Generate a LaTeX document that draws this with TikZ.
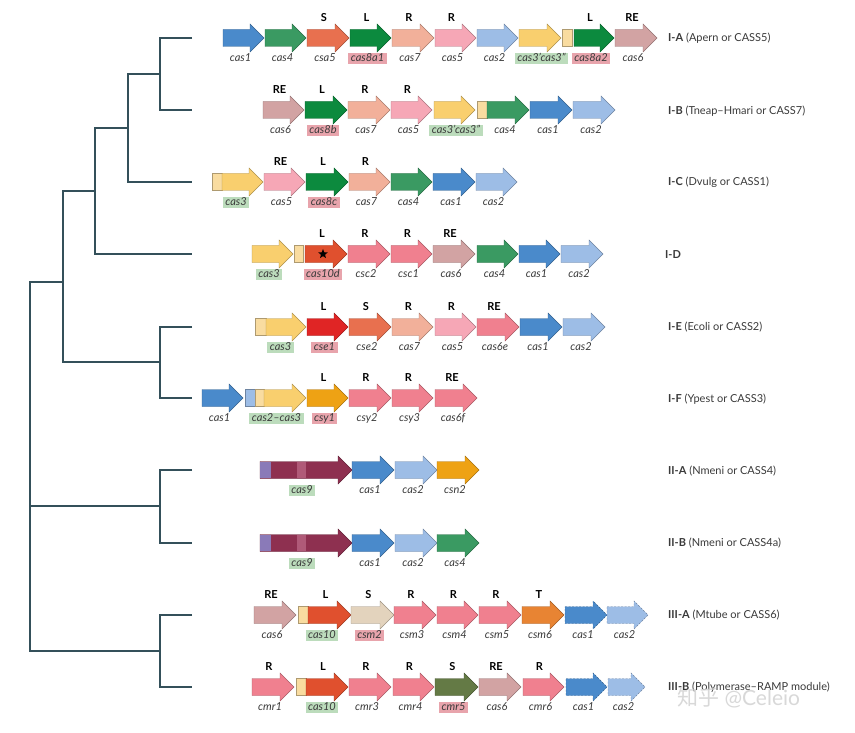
\documentclass[tikz,border=0pt]{standalone}
\usepackage{fontspec}
\setmainfont{Lato}
\newfontfamily\cjk{Noto Sans CJK SC}
\usetikzlibrary{shapes.geometric}
\definecolor{cblue}{HTML}{4A8ACB}
\definecolor{clblue}{HTML}{9DBDE6}
\definecolor{cgreen}{HTML}{3A9A62}
\definecolor{cdgreen}{HTML}{0C8A3E}
\definecolor{csalmon}{HTML}{E8704F}
\definecolor{cpeach}{HTML}{F2B09A}
\definecolor{cpink}{HTML}{F6A7B6}
\definecolor{cpinkb}{HTML}{F0808F}
\definecolor{cmauve}{HTML}{D2A3A3}
\definecolor{cyellow}{HTML}{F9CF6E}
\definecolor{ccream}{HTML}{F9DCA0}
\definecolor{cred}{HTML}{E02525}
\definecolor{credo}{HTML}{E0502E}
\definecolor{camber}{HTML}{EEA214}
\definecolor{corange}{HTML}{E88433}
\definecolor{cbeige}{HTML}{E3D3BD}
\definecolor{colive}{HTML}{647A45}
\definecolor{cmaroon}{HTML}{8E3050}
\definecolor{cstripe}{HTML}{B05A78}
\definecolor{cpurple}{HTML}{8A7AB8}
\definecolor{hlpink}{HTML}{E8A4AC}
\definecolor{hlgreen}{HTML}{BCDCBC}
\definecolor{treecol}{HTML}{34505A}
\definecolor{txtgray}{HTML}{3A3A3A}
\tikzset{
  genebody/.style={line width=0.4pt},
  tlab/.style={font=\fontsize{11}{13}\selectfont\bfseries, text=black, inner sep=0pt},
  gname/.style={font=\fontsize{11}{13}\selectfont\itshape, text=txtgray, inner xsep=2.5pt, inner ysep=0pt, text height=8.2pt, text depth=2.6pt},
  hlp/.style={fill=hlpink},
  hlg/.style={fill=hlgreen},
  nohl/.style={},
  tree/.style={line width=1.3pt, draw=treecol},
  rlab/.style={anchor=west, font=\fontsize{11}{13}\selectfont, text=txtgray, inner sep=0pt},
  dsh/.style={dash pattern=on 2pt off 1.5pt}
}
% #1 opts, #2 id, #3 x1, #4 x2, #5 y, #6 colour, #7 type, #8 name, #9 highlight
\newcommand\gene[9][]{%
  \path[genebody,fill=#6,draw=#6!70!black,#1] ({#3},{#5-8.5}) -- ({#4-14},{#5-8.5}) -- ({#4-14},{#5-14}) -- ({#4},{#5}) -- ({#4-14},{#5+14}) -- ({#4-14},{#5+8.5}) -- ({#3},{#5+8.5}) -- cycle;
  \node[tlab] (#2t) at ({(#3+#4)/2-4},{#5-20}) {#7};
  \node[gname,#9] (#2n) at ({(#3+#4)/2-3},{#5+20.5}) {#8};
}
\newcommand\gbox[4]{%
  \path[genebody,fill=#4,draw=#4!70!black] ({#1},{#3-8.5}) rectangle ({#2},{#3+8.5});
}
\begin{document}
\begin{tikzpicture}[x=1pt,y=-1pt]
\useasboundingbox[fill=white] (0,0) rectangle (855,733);
% ---------- tree ----------
\coordinate (lA) at (192,38);
\coordinate (lB) at (192,110);
\coordinate (lC) at (192,182);
\coordinate (lD) at (192,254);
\coordinate (lE) at (192,327);
\coordinate (lF) at (192,398);
\coordinate (lG) at (192,470);
\coordinate (lH) at (192,543);
\coordinate (lI) at (192,615);
\coordinate (lJ) at (192,687);
\coordinate (jAB) at (160,74);
\coordinate (jABC) at (128,128);
\coordinate (jABCD) at (95,191);
\coordinate (jEF) at (160,362);
\coordinate (jI) at (63,282);
\coordinate (jII) at (160,506);
\coordinate (jIII) at (160,651);
\coordinate (rTop) at (30,282);
\coordinate (rBot) at (30,651);
\draw[tree] (lA) -| (jAB) |- (lB);
\draw[tree] (jAB) -| (jABC) |- (lC);
\draw[tree] (jABC) -| (jABCD) |- (lD);
\draw[tree] (lE) -| (jEF) |- (lF);
\draw[tree] (jABCD) -| (jI) |- (jEF);
\draw[tree] (lG) -| (jII) |- (lH);
\draw[tree] (lI) -| (jIII) |- (lJ);
\draw[tree] (jI) -- (rTop) -- (rBot) -- (jIII);
\draw[tree] (jII) -- (jII -| rTop);
% ---------- I-A ----------
\gene{a1}{223}{264}{38}{cblue}{}{cas1}{nohl}
\gene{a2}{265}{306}{38}{cgreen}{}{cas4}{nohl}
\gene{a3}{307}{349}{38}{csalmon}{S}{csa5}{nohl}
\gene{a4}{350}{391}{38}{cdgreen}{L}{cas8a1}{hlp}
\gene{a5}{392}{434}{38}{cpeach}{R}{cas7}{nohl}
\gene{a6}{435}{476}{38}{cpink}{R}{cas5}{nohl}
\gene{a7}{477}{518}{38}{clblue}{}{cas2}{nohl}
\gene{a8}{519}{561}{38}{cyellow}{}{}{nohl}
\gbox{562}{572}{38}{ccream}
\node[gname,hlg] (a8x) at (541.5,58.5) {cas3'cas3''};
\gene{a9}{574}{614}{38}{cdgreen}{L}{cas8a2}{hlp}
\gene{a10}{615}{657}{38}{cmauve}{RE}{cas6}{nohl}
% ---------- I-B ----------
\gene{b1}{263}{304}{110}{cmauve}{RE}{cas6}{nohl}
\gene{b2}{305}{347}{110}{cdgreen}{L}{cas8b}{hlp}
\gene{b3}{348}{390}{110}{cpeach}{R}{cas7}{nohl}
\gene{b4}{391}{432}{110}{cpink}{R}{cas5}{nohl}
\gene{b5}{434}{475}{110}{cyellow}{}{}{nohl}
\gbox{477}{487}{110}{ccream}
\node[gname,hlg] (b5x) at (456,130.5) {cas3'cas3''};
\gene{b6}{487}{529}{110}{cgreen}{}{cas4}{nohl}
\gene{b7}{530}{572}{110}{cblue}{}{cas1}{nohl}
\gene{b8}{573}{615}{110}{clblue}{}{cas2}{nohl}
% ---------- I-C ----------
\gbox{212}{222}{182}{ccream}
\gene{c1}{222}{263}{182}{cyellow}{}{}{nohl}
\node[gname,hlg] (c1x) at (236,202.5) {cas3};
\gene{c2}{264}{305}{182}{cpink}{RE}{cas5}{nohl}
\gene{c3}{306}{348}{182}{cdgreen}{L}{cas8c}{hlp}
\gene{c4}{349}{390}{182}{cpeach}{R}{cas7}{nohl}
\gene{c5}{391}{432}{182}{cgreen}{}{cas4}{nohl}
\gene{c6}{433}{475}{182}{cblue}{}{cas1}{nohl}
\gene{c7}{476}{517}{182}{clblue}{}{cas2}{nohl}
% ---------- I-D ----------
\gene{d1}{252}{293}{254}{cyellow}{}{}{nohl}
\node[gname,hlg] (d1x) at (269,274.5) {cas3};
\gbox{294}{303}{254}{ccream}
\gene{d2}{305}{347}{254}{credo}{L}{cas10d}{hlp}
\node[star, star points=5, star point ratio=2.3, fill=black, minimum size=10pt, inner sep=0pt] (dstar) at (323,254) {};
\gene{d3}{348}{390}{254}{cpinkb}{R}{csc2}{nohl}
\gene{d4}{391}{432}{254}{cpinkb}{R}{csc1}{nohl}
\gene{d5}{433}{475}{254}{cmauve}{RE}{cas6}{nohl}
\gene{d6}{477}{518}{254}{cgreen}{}{cas4}{nohl}
\gene{d7}{519}{560}{254}{cblue}{}{cas1}{nohl}
\gene{d8}{561}{603}{254}{clblue}{}{cas2}{nohl}
% ---------- I-E ----------
\gbox{255}{266}{327}{ccream}
\gene{e1}{266}{306}{327}{cyellow}{}{}{nohl}
\node[gname,hlg] (e1x) at (280.5,347.5) {cas3};
\gene{e2}{307}{348}{327}{cred}{L}{cse1}{hlp}
\gene{e3}{349}{391}{327}{csalmon}{S}{cse2}{nohl}
\gene{e4}{392}{433}{327}{cpeach}{R}{cas7}{nohl}
\gene{e5}{435}{476}{327}{cpink}{R}{cas5}{nohl}
\gene{e6}{477}{519}{327}{cpinkb}{RE}{cas6e}{nohl}
\gene{e7}{520}{562}{327}{cblue}{}{cas1}{nohl}
\gene{e8}{563}{605}{327}{clblue}{}{cas2}{nohl}
% ---------- I-F ----------
\gene{f1}{202}{243}{398}{cblue}{}{cas1}{nohl}
\gbox{245}{255}{398}{clblue}
\gbox{255}{264}{398}{ccream}
\gene{f2}{264}{306}{398}{cyellow}{}{}{nohl}
\node[gname,hlg] (f2x) at (276.5,418.5) {cas2--cas3};
\gene{f3}{307}{348}{398}{camber}{L}{csy1}{hlp}
\gene{f4}{349}{391}{398}{cpinkb}{R}{csy2}{nohl}
\gene{f5}{392}{433}{398}{cpinkb}{R}{csy3}{nohl}
\gene{f6}{435}{477}{398}{cpinkb}{RE}{cas6f}{nohl}
% ---------- II-A ----------
\gene{g1}{260}{352}{470}{cmaroon}{}{}{nohl}
\path[fill=cpurple] (260.2,461.7) rectangle (271,478.3);
\path[fill=cstripe] (297,461.7) rectangle (306,478.3);
\node[gname,hlg] (g1x) at (302,490.5) {cas9};
\gene{g2}{352}{394}{470}{cblue}{}{cas1}{nohl}
\gene{g3}{395}{437}{470}{clblue}{}{cas2}{nohl}
\gene{g4}{437}{479}{470}{camber}{}{csn2}{nohl}
% ---------- II-B ----------
\gene{h1}{260}{352}{543}{cmaroon}{}{}{nohl}
\path[fill=cpurple] (260.2,534.7) rectangle (271,551.3);
\path[fill=cstripe] (297,534.7) rectangle (306,551.3);
\node[gname,hlg] (h1x) at (302,563.5) {cas9};
\gene{h2}{352}{394}{543}{cblue}{}{cas1}{nohl}
\gene{h3}{395}{437}{543}{clblue}{}{cas2}{nohl}
\gene{h4}{437}{479}{543}{cgreen}{}{cas4}{nohl}
% ---------- III-A ----------
\gene{i1}{254}{296}{615}{cmauve}{RE}{cas6}{nohl}
\gbox{298}{308}{615}{ccream}
\gene{i2}{308}{351}{615}{credo}{L}{}{nohl}
\node[gname,hlg] (i2x) at (322,635.5) {cas10};
\gene{i3}{351}{394}{615}{cbeige}{S}{csm2}{hlp}
\gene{i4}{394}{436}{615}{cpinkb}{R}{csm3}{nohl}
\gene{i5}{437}{478}{615}{cpinkb}{R}{csm4}{nohl}
\gene{i6}{479}{521}{615}{cpinkb}{R}{csm5}{nohl}
\gene{i7}{522}{564}{615}{corange}{T}{csm6}{nohl}
\gene[dsh]{i8}{565}{607}{615}{cblue}{}{cas1}{nohl}
\gene[dsh]{i9}{607}{648}{615}{clblue}{}{cas2}{nohl}
% ---------- III-B ----------
\gene{j1}{252}{294}{687}{cpinkb}{R}{cmr1}{nohl}
\gbox{296}{306}{687}{ccream}
\gene{j2}{306}{348}{687}{credo}{L}{}{nohl}
\node[gname,hlg] (j2x) at (322,707.5) {cas10};
\gene{j3}{349}{391}{687}{cpinkb}{R}{cmr3}{nohl}
\gene{j4}{393}{434}{687}{cpinkb}{R}{cmr4}{nohl}
\gene{j5}{435}{478}{687}{colive}{S}{cmr5}{hlp}
\gene{j6}{479}{521}{687}{cmauve}{RE}{cas6}{nohl}
\gene{j7}{523}{564}{687}{cpinkb}{R}{cmr6}{nohl}
\gene[dsh]{j8}{566}{607}{687}{cblue}{}{cas1}{nohl}
\gene[dsh]{j9}{608}{645}{687}{clblue}{}{cas2}{nohl}
% ---------- right labels ----------
\node[rlab] (tA) at (668,38) {\textbf{I-A} (Apern or CASS5)};
\node[rlab] (tB) at (668,111) {\textbf{I-B} (Tneap--Hmari or CASS7)};
\node[rlab] (tC) at (668,182) {\textbf{I-C} (Dvulg or CASS1)};
\node[rlab] (tD) at (665,255) {\textbf{I-D}};
\node[rlab] (tE) at (668,327) {\textbf{I-E} (Ecoli or CASS2)};
\node[rlab] (tF) at (668,399) {\textbf{I-F} (Ypest or CASS3)};
\node[rlab] (tG) at (668,471) {\textbf{II-A} (Nmeni or CASS4)};
\node[rlab] (tH) at (668,543) {\textbf{II-B} (Nmeni or CASS4a)};
\node[rlab] (tI) at (668,615) {\textbf{III-A} (Mtube or CASS6)};
\node[rlab] (tJ) at (668,687) {\textbf{III-B} (Polymerase--RAMP module)};
% ---------- watermark ----------
\node[anchor=west, inner sep=0pt, font=\fontsize{21}{24}\selectfont, text=gray!35, opacity=0.85] (wm) at (677,698) {{\cjk 知乎} @Celeio};
\end{tikzpicture}
\end{document}
